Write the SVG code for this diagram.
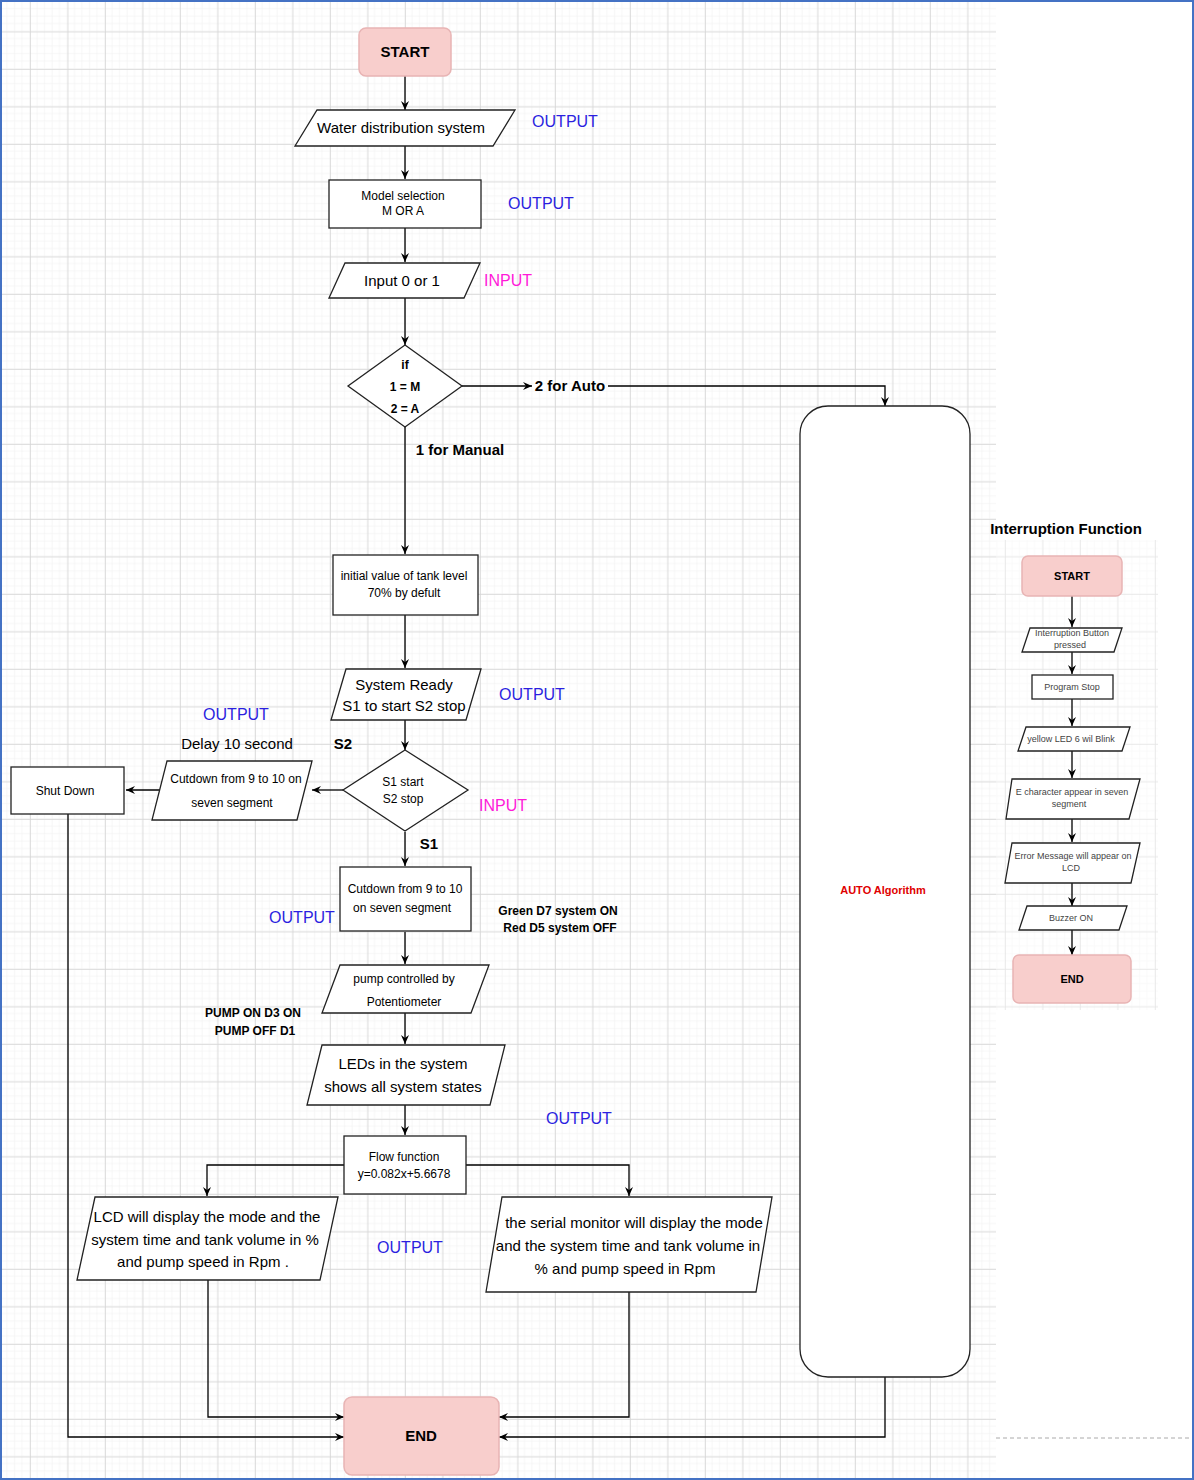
<svg xmlns="http://www.w3.org/2000/svg" width="1194" height="1480" viewBox="0 0 1194 1480">
<defs>
<pattern id="minor" width="7.5" height="7.5" patternUnits="userSpaceOnUse"><path d="M7.5 0V7.5H0" fill="none" stroke="#eeeeee" stroke-width="1"/></pattern>
<pattern id="major" x="30" y="-6" width="37.5" height="37.5" patternUnits="userSpaceOnUse"><rect width="37.5" height="37.5" fill="url(#minor)"/><path d="M0 0V37.5M0 0H37.5" fill="none" stroke="#d6d6d6" stroke-width="1.5"/></pattern>
<marker id="ar" markerWidth="10" markerHeight="10" refX="9" refY="5" orient="auto" markerUnits="userSpaceOnUse"><path d="M0 1L9 5L0 9L3 5Z" fill="#000"/></marker>
<style>
.s{fill:#fff;stroke:#222;stroke-width:1.3}
.t{stroke:#e8b4b4;fill:#f8cecc;stroke-width:1.5}
text{font-family:"Liberation Sans",Arial,sans-serif;fill:#000;text-anchor:middle}
.f{font-size:15px}.sm{font-size:12px}.b{font-weight:bold}
.o{fill:#2b1fe0;font-size:16px}.i{fill:#ff1ad9;font-size:16px}
.c path,.c line{fill:none;stroke:#000;stroke-width:1.3;marker-end:url(#ar)}
.ti{font-size:9px;fill:#444}
</style>
</defs>
<rect width="1194" height="1480" fill="#fff"/>
<rect x="2" y="2" width="994" height="1476" fill="url(#major)"/>
<rect x="996" y="540" width="162" height="470" fill="url(#major)" opacity="0.6"/>
<line x1="996" y1="1438" x2="1190" y2="1438" stroke="#aaa" stroke-dasharray="4 3"/>
<rect x="1" y="1" width="1192" height="1478" fill="none" stroke="#4472c4" stroke-width="2"/>

<g class="c">
<line x1="405" y1="76" x2="405" y2="110"/>
<line x1="405" y1="146" x2="405" y2="179"/>
<line x1="405" y1="228" x2="405" y2="262"/>
<line x1="405" y1="298" x2="405" y2="345"/>
<line x1="462" y1="386" x2="532" y2="386"/>
<path d="M608 386H885V406"/>
<line x1="405" y1="427" x2="405" y2="554"/>
<line x1="405" y1="615" x2="405" y2="668"/>
<line x1="405" y1="720" x2="405" y2="750"/>
<line x1="343" y1="790" x2="312" y2="790"/>
<line x1="162" y1="790" x2="126" y2="790"/>
<line x1="405" y1="832" x2="405" y2="866"/>
<line x1="405" y1="932" x2="405" y2="964"/>
<line x1="405" y1="1013" x2="405" y2="1044"/>
<line x1="405" y1="1105" x2="405" y2="1135"/>
<path d="M344 1165H207V1196"/>
<path d="M466 1165H629V1196"/>
<path d="M208 1280V1417H344"/>
<path d="M629 1292V1417H499"/>
<path d="M68 814V1437H344"/>
<path d="M885 1377V1437H499"/>
<line x1="1072" y1="596" x2="1072" y2="627"/>
<line x1="1072" y1="652" x2="1072" y2="674"/>
<line x1="1072" y1="699" x2="1072" y2="726"/>
<line x1="1072" y1="751" x2="1072" y2="778"/>
<line x1="1072" y1="818" x2="1072" y2="842"/>
<line x1="1072" y1="883" x2="1072" y2="906"/>
<line x1="1072" y1="930" x2="1072" y2="955"/>
</g>

<g id="start"><rect class="t" x="359" y="28" width="92" height="48" rx="7"/><text x="405" y="57" class="f b">START</text></g>
<g id="wds"><polygon class="s" points="317,110 515,110 493,146 295,146"/><text x="401" y="133" class="f">Water distribution system</text></g>
<text x="565" y="127" class="o">OUTPUT</text>
<g id="model"><rect class="s" x="329" y="180" width="152" height="48"/><text x="403" y="200" class="sm">Model selection</text><text x="403" y="215" class="sm">M OR A</text></g>
<text x="541" y="209" class="o">OUTPUT</text>
<g id="input"><polygon class="s" points="345,263 480,263 464,298 329,298"/><text x="402" y="286" class="f">Input 0 or 1</text></g>
<text x="508" y="286" class="i">INPUT</text>
<g id="dec1"><polygon class="s" points="405,345 462,386 405,427 348,386"/><text x="405" y="369" class="sm b">if</text><text x="405" y="391" class="sm b">1 = M</text><text x="405" y="413" class="sm b">2 = A</text></g>
<text x="570" y="391" class="f b">2 for Auto</text>
<text x="460" y="455" class="f b">1 for Manual</text>
<g id="auto"><rect class="s" x="800" y="406" width="170" height="971" rx="28"/><text x="883" y="894" font-size="11" fill="#e00000" style="fill:#e00000" font-weight="bold">AUTO Algorithm</text></g>
<g id="init"><rect class="s" x="333" y="555" width="145" height="60"/><text x="404" y="580" class="sm">initial value of tank level</text><text x="404" y="597" class="sm">70% by defult</text></g>
<g id="ready"><polygon class="s" points="346,669 481,669 466,720 331,720"/><text x="404" y="690" class="f">System Ready</text><text x="404" y="711" class="f">S1 to start S2 stop</text></g>
<text x="532" y="700" class="o">OUTPUT</text>
<text x="236" y="720" class="o">OUTPUT</text>
<text x="237" y="749" class="f">Delay 10 second</text>
<text x="343" y="749" class="f b">S2</text>
<g id="dec2"><polygon class="s" points="405,750 468,790 405,831 343,790"/><text x="403" y="786" class="sm">S1 start</text><text x="403" y="803" class="sm">S2 stop</text></g>
<text x="503" y="811" class="i">INPUT</text>
<text x="429" y="849" class="f b">S1</text>
<g id="cut1"><polygon class="s" points="167,761 312,761 297,820 152,820"/><text x="236" y="783" class="sm">Cutdown from 9 to 10 on</text><text x="232" y="807" class="sm">seven segment</text></g>
<g id="shut"><rect class="s" x="11" y="767" width="113" height="47"/><text x="65" y="795" class="sm">Shut Down</text></g>
<g id="cut2"><rect class="s" x="340" y="867" width="131" height="64"/><text x="405" y="893" class="sm">Cutdown from 9 to 10</text><text x="402" y="912" class="sm">on seven segment</text></g>
<text x="302" y="923" class="o">OUTPUT</text>
<text x="558" y="915" class="sm b">Green D7 system ON</text>
<text x="560" y="932" class="sm b">Red D5 system OFF</text>
<g id="pump"><polygon class="s" points="340,965 489,965 471,1013 322,1013"/><text x="404" y="983" class="sm">pump controlled by</text><text x="404" y="1006" class="sm">Potentiometer</text></g>
<text x="253" y="1017" class="sm b">PUMP ON D3 ON</text>
<text x="255" y="1035" class="sm b">PUMP OFF D1</text>
<g id="leds"><polygon class="s" points="322,1045 505,1045 490,1105 307,1105"/><text x="403" y="1069" class="f">LEDs in the system</text><text x="403" y="1092" class="f">shows all system states</text></g>
<text x="579" y="1124" class="o">OUTPUT</text>
<g id="flow"><rect class="s" x="344" y="1136" width="122" height="58"/><text x="404" y="1161" class="sm">Flow function</text><text x="404" y="1178" class="sm">y=0.082x+5.6678</text></g>
<g id="lcd"><polygon class="s" points="95,1197 338,1197 320,1280 77,1280"/><text x="207" y="1222" class="f">LCD will display the mode and the</text><text x="205" y="1245" class="f">system time and tank volume in %</text><text x="203" y="1267" class="f">and pump speed in Rpm .</text></g>
<text x="410" y="1253" class="o">OUTPUT</text>
<g id="serial"><polygon class="s" points="502,1197 772,1197 756,1292 486,1292"/><text x="634" y="1228" class="f">the serial monitor  will display the mode</text><text x="628" y="1251" class="f">and the system time and tank volume in</text><text x="625" y="1274" class="f">%  and pump speed in Rpm</text></g>
<g id="end"><rect class="t" x="344" y="1397" width="155" height="78" rx="8"/><text x="421" y="1441" class="f b">END</text></g>

<text x="1066" y="534" class="f" font-weight="bold" fill="#111">Interruption Function</text>
<g id="istart"><rect class="t" x="1022" y="556" width="100" height="40" rx="6"/><text x="1072" y="580" font-size="11" font-weight="bold">START</text></g>
<g id="ibtn"><polygon class="s" stroke-width="0.8" points="1030,628 1122,628 1114,652 1022,652"/><text x="1072" y="636" class="ti">Interruption Button</text><text x="1070" y="648" class="ti">pressed</text></g>
<g id="istop"><rect class="s" stroke-width="0.8" x="1032" y="675" width="81" height="24"/><text x="1072" y="690" class="ti">Program Stop</text></g>
<g id="iled"><polygon class="s" stroke-width="0.8" points="1026,727 1130,727 1122,751 1018,751"/><text x="1071" y="742" class="ti">yellow LED 6 wil Blink</text></g>
<g id="iseg"><polygon class="s" stroke-width="0.8" points="1012,779 1140,779 1129,819 1006,819"/><text x="1072" y="795" class="ti">E character appear in seven</text><text x="1069" y="807" class="ti">segment</text></g>
<g id="ilcd"><polygon class="s" stroke-width="0.8" points="1012,843 1140,843 1131,883 1005,883"/><text x="1073" y="859" class="ti">Error Message will appear on</text><text x="1071" y="871" class="ti">LCD</text></g>
<g id="ibuz"><polygon class="s" stroke-width="0.8" points="1027,906 1127,906 1119,930 1019,930"/><text x="1071" y="921" class="ti">Buzzer ON</text></g>
<g id="iend"><rect class="t" x="1013" y="955" width="118" height="48" rx="6"/><text x="1072" y="983" font-size="11" font-weight="bold">END</text></g>
</svg>
